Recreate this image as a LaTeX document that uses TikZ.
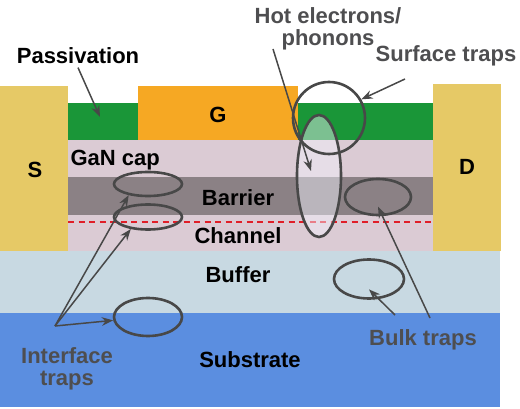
\documentclass[tikz,border=0pt]{standalone}
\usepackage{fontspec}
\setmainfont{Liberation Sans}
\usepackage{tikz}
\usetikzlibrary{arrows.meta, positioning, calc, shapes.geometric}
\definecolor{contactyellow}{RGB}{230, 201, 102}
\definecolor{passgreen}{RGB}{26, 150, 56}
\definecolor{gateorange}{RGB}{246, 168, 35}
\definecolor{cappink}{RGB}{219, 203, 212}
\definecolor{barriergray}{RGB}{139, 129, 133}
\definecolor{bufferblue}{RGB}{200, 217, 226}
\definecolor{substrateblue}{RGB}{91, 142, 224}
\definecolor{trapgray}{RGB}{72, 72, 72}
\definecolor{labelgray}{RGB}{78, 78, 80}
\definecolor{channelred}{RGB}{224, 30, 40}

\begin{document}
\begin{tikzpicture}[
    x=1pt, y=-1pt,
    every node/.style={font=\fontsize{22}{25}\selectfont\bfseries},
    layerlabel/.style={text=black},
    notelabel/.style={text=labelgray, align=center},
    trap/.style={ellipse, draw=trapgray, line width=2.6pt, inner sep=0pt},
    arrow/.style={-{Stealth[length=4mm, width=3mm]}, line width=1.5pt, color=trapgray}
]
\useasboundingbox (0,0) rectangle (520,409);

% Layers
\fill[substrateblue] (0,313) rectangle (500,407);
\fill[bufferblue] (0,251) rectangle (500,313);
\fill[cappink] (68,140) rectangle (433,251);
\fill[barriergray] (68,177) rectangle (433,215);
\draw[channelred, line width=2.2pt, dash pattern=on 6pt off 4.5pt] (68,222) -- (433,222);

% Contacts and passivation
\fill[contactyellow] (0,86) rectangle (68,251);
\fill[contactyellow] (433,84) rectangle (501,251);
\fill[passgreen] (68,103) rectangle (138,140);
\fill[passgreen] (298,103) rectangle (433,140);
\fill[gateorange] (138,86) rectangle (298,140);

% Layer labels
\node[layerlabel] (src) at (35,170) {S};
\node[layerlabel] (drn) at (467,167) {D};
\node[layerlabel] (gate) at (218,115) {G};
\node[layerlabel, anchor=west] (cap) at (67,160) {GaN cap};
\node[layerlabel] (barrier) at (238,198) {Barrier};
\node[layerlabel] (channel) at (238,236) {Channel};
\node[layerlabel] (buffer) at (238,275) {Buffer};
\node[layerlabel] (substrate) at (250,360) {Substrate};

% Traps
\node[trap, minimum width=68pt, minimum height=24pt] (it1) at (148,184) {};
\node[trap, minimum width=68pt, minimum height=25pt] (it2) at (148,217) {};
\node[trap, minimum width=68pt, minimum height=38pt] (it3) at (148,317) {};
\node[trap, minimum width=66pt, minimum height=36pt] (bt1) at (378,197) {};
\node[trap, minimum width=70pt, minimum height=39pt] (bt2) at (369,279) {};
\node[trap, minimum width=44pt, minimum height=122pt, fill=white!80!blue!20, fill opacity=0.45] (hot) at (319,176) {};
\node[trap, circle, minimum size=72pt] (surf) at (329,118) {};

% Annotations
\node[text=black] (pass) at (78,56) {Passivation};
\node[notelabel] (hotlabel) at (328,29) {Hot electrons/\\[-3pt]phonons};
\node[notelabel] (surflabel) at (446,56) {Surface traps};
\node[notelabel] (bulk) at (423,340) {Bulk traps};
\node[notelabel] (iflabel) at (67,369) {Interface\\[-3pt]traps};

\coordinate (passtip) at (100,117);
\coordinate (hotstart) at (273,49);
\coordinate (hottip) at (311,171);
\coordinate (surfstart) at (405,79);
\coordinate (ifstart) at (55,326);
\coordinate (bulkA) at (395,315);
\coordinate (bulkB) at (430,318);

% Arrows
\draw[arrow] (pass.south) -- (passtip);
\draw[arrow] (hotstart) -- (hottip);
\draw[arrow] (surfstart) -- (surf.30);
\draw[arrow] (ifstart) -- (it1.210);
\draw[arrow] (ifstart) -- (it2.215);
\draw[arrow] (ifstart) -- (it3);
\draw[arrow] (bulkB) -- ($(bt1.south)!0.5!(bt1.center)$);
\draw[arrow] (bulkA) -- ($(bt2.south)!0.5!(bt2.center)$);

\end{tikzpicture}
\end{document}
